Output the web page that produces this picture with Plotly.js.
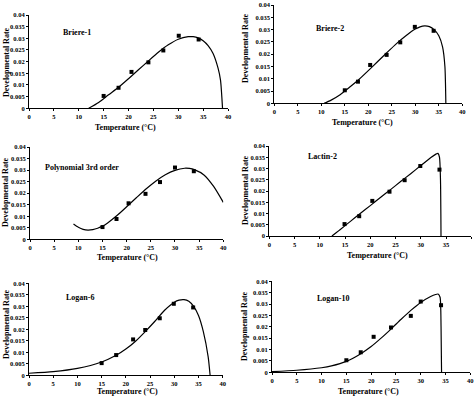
<!DOCTYPE html>
<html>
<head>
<meta charset="utf-8">
<script src="https://cdn.plot.ly/plotly-3.0.1.min.js"></script>
<style>html,body{margin:0;padding:0;background:#fff;}#chart{width:474px;height:397px;}</style>
</head>
<body>
<div id="chart"></div>
<script>
// Observed data (temperature, developmental rate), read per panel
const obsRate = [0.0053, 0.0088, 0.0156, 0.0197, 0.0248, 0.0311, 0.0295];
const obsTempBriere1 = [15, 18, 20.6, 24, 27, 30.1, 34.1];
const obsTempBriere2 = [15, 17.8, 20.4, 23.9, 26.8, 29.9, 33.9];
const obsTempPoly = [15, 17.9, 20.4, 23.9, 26.9, 30, 33.9];
const obsTempLactin = [14.9, 17.8, 20.4, 23.8, 26.8, 29.9, 33.7];
const obsTempLogan6 = [15, 18, 21.5, 24, 27, 29.9, 33.9];
const obsTempLogan10 = [15, 17.9, 20.5, 24, 28, 30, 34.1];

// Fitted curves
const briere1T = [12, 14, 16, 18, 20, 22, 24, 26, 28, 30, 32, 33, 34, 35, 36, 37, 38, 38.5, 38.9];
const briere1R = [0, 0.0025, 0.0058, 0.0090, 0.0127, 0.0165, 0.0203, 0.0240, 0.0272, 0.0296, 0.0307, 0.0307, 0.0302, 0.0290, 0.0269, 0.0235, 0.0172, 0.0120, 0];

const briere2T = [10.6, 12, 14, 16, 18, 20, 22, 24, 26, 28, 30, 31, 32, 33, 34, 35, 35.8, 36.3, 36.5];
const briere2R = [0, 0.0012, 0.0035, 0.0065, 0.0097, 0.0133, 0.0170, 0.0207, 0.0243, 0.0275, 0.0302, 0.0311, 0.0315, 0.0312, 0.0300, 0.0275, 0.0230, 0.0150, 0];

const polyT = [9, 10, 11, 12, 13, 14, 15, 16, 18, 20, 22, 24, 26, 28, 30, 32, 33, 34, 36, 38, 40];
const polyR = [0.0066, 0.0052, 0.0043, 0.0040, 0.0042, 0.0048, 0.0057, 0.0070, 0.0103, 0.0141, 0.0180, 0.0218, 0.0252, 0.0280, 0.0299, 0.0308, 0.0307, 0.0302, 0.0279, 0.0229, 0.0160];

const lactinT = [12.4, 14, 16, 18, 20, 22, 24, 26, 28, 30, 32, 33, 33.4, 33.7, 33.9, 34.0];
const lactinR = [0, 0.0028, 0.0064, 0.0100, 0.0135, 0.0171, 0.0206, 0.0242, 0.0277, 0.0313, 0.0349, 0.0364, 0.0367, 0.0350, 0.0250, 0];

const logan6T = [0, 5, 10, 15, 18, 20, 22, 24, 26, 28, 30, 31, 32, 33, 34, 35, 36, 37, 37.4];
const logan6R = [0.0009, 0.0016, 0.0030, 0.0058, 0.0087, 0.0114, 0.0148, 0.0190, 0.0235, 0.0283, 0.0318, 0.0327, 0.0329, 0.0322, 0.0300, 0.0260, 0.0190, 0.0080, 0];

const logan10T = [0, 5, 10, 12, 15, 18, 20, 22, 24, 26, 28, 30, 32, 33, 33.5, 33.9, 34.1, 34.2];
const logan10R = [0.0003, 0.0009, 0.0020, 0.0028, 0.0048, 0.0083, 0.0113, 0.0150, 0.0190, 0.0232, 0.0272, 0.0307, 0.0333, 0.0342, 0.0344, 0.0330, 0.0200, 0];

const xTicks = [0, 5, 10, 15, 20, 25, 30, 35, 40];
const yTicks = [0, 0.005, 0.01, 0.015, 0.02, 0.025, 0.03, 0.035, 0.04];
const yTickText = ["0", "0.005", "0.01", "0.015", "0.02", "0.025", "0.03", "0.035", "0.04"];
const panelNames = ["Briere-1", "Briere-2", "Polynomial 3rd order", "Lactin-2", "Logan-6", "Logan-10"];
const xTitle = "Temperature (°C)";
const yTitle = "Developmental Rate";

const W = 474, H = 397;
// plot areas in pixels: [x0, x1, yTop, yBottom]
const boxes = [
  [29, 228, 15, 108.3],
  [274.3, 462.3, 5, 103.3],
  [30, 223.3, 147, 239.3],
  [269.3, 471.3, 146, 236],
  [29, 222.7, 283.3, 375.3],
  [272, 470.3, 281.3, 372.3]
];
// label positions [xTitleCx, xTitleCy, yTitleCx, yTitleCy, nameLeft, nameCy]
const labelPos = [
  [125, 127, 6, 62, 61, 33],
  [362, 122, 245, 48, 314, 29],
  [127, 257, 5, 192, 43, 168],
  [377, 255, 245, 190, 306, 156],
  [127, 391, 6, 324, 64, 297],
  [368, 391, 244, 326, 315, 298]
];

const curves = [[briere1T, briere1R], [briere2T, briere2R], [polyT, polyR], [lactinT, lactinR], [logan6T, logan6R], [logan10T, logan10R]];
const obsTemps = [obsTempBriere1, obsTempBriere2, obsTempPoly, obsTempLactin, obsTempLogan6, obsTempLogan10];

const serif = "Liberation Serif, Times New Roman, serif";
const data = [];
const layout = {
  width: W, height: H,
  margin: {l: 0, r: 0, t: 0, b: 0},
  paper_bgcolor: "#fff", plot_bgcolor: "#fff",
  showlegend: false,
  annotations: []
};

for (let i = 0; i < 6; i++) {
  const n = i === 0 ? "" : String(i + 1);
  const xa = "x" + n, ya = "y" + n;
  data.push({x: curves[i][0], y: curves[i][1], xaxis: xa, yaxis: ya, mode: "lines",
    line: {color: "#000", width: 1.2, shape: "spline", smoothing: 0.6}, hoverinfo: "skip", cliponaxis: false});
  data.push({x: obsTemps[i], y: obsRate, xaxis: xa, yaxis: ya, mode: "markers",
    marker: {symbol: "square", size: 4, color: "#000"}, cliponaxis: false});
  const b = boxes[i];
  layout["xaxis" + n] = {
    domain: [b[0] / W, b[1] / W], anchor: ya, range: [0, 40],
    tickvals: xTicks, ticktext: xTicks.map(String),
    showgrid: false, zeroline: false, showline: true, linecolor: "#000", linewidth: 1,
    ticks: "outside", ticklen: 2, tickwidth: 1, tickcolor: "#000",
    tickfont: {family: serif, size: 6.5, color: "#000", weight: "bold"}, fixedrange: true
  };
  layout["yaxis" + n] = {
    domain: [1 - b[3] / H, 1 - b[2] / H], anchor: xa, range: [0, 0.04],
    tickvals: yTicks, ticktext: yTickText,
    showgrid: false, zeroline: false, showline: true, linecolor: "#000", linewidth: 1,
    ticks: "outside", ticklen: 2, tickwidth: 1, tickcolor: "#000",
    tickfont: {family: serif, size: 6.5, color: "#000", weight: "bold"}, fixedrange: true
  };
  const p = labelPos[i];
  layout.annotations.push({text: xTitle, xref: "paper", yref: "paper", x: p[0] / W, y: 1 - p[1] / H,
    xanchor: "center", yanchor: "middle", showarrow: false,
    font: {family: serif, size: 8, color: "#000", weight: "bold"}});
  layout.annotations.push({text: yTitle, xref: "paper", yref: "paper", x: p[2] / W, y: 1 - p[3] / H,
    xanchor: "center", yanchor: "middle", showarrow: false, textangle: -90,
    font: {family: serif, size: 8, color: "#000", weight: "bold"}});
  layout.annotations.push({text: panelNames[i], xref: "paper", yref: "paper", x: p[4] / W, y: 1 - p[5] / H,
    xanchor: "left", yanchor: "middle", showarrow: false,
    font: {family: serif, size: 8, color: "#000", weight: "bold"}});
}

Plotly.newPlot("chart", data, layout, {staticPlot: true, displayModeBar: false});
</script>
</body>
</html>
